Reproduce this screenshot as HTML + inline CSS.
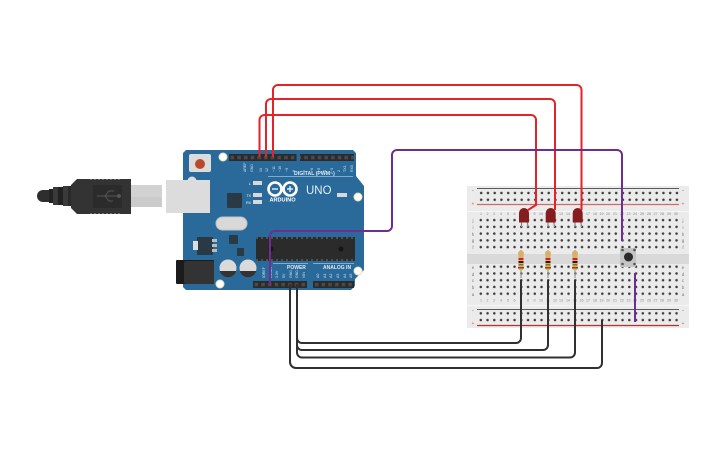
<!DOCTYPE html>
<html><head><meta charset="utf-8"><style>html,body{margin:0;padding:0;background:#fff}svg{display:block}text{font-family:"Liberation Sans",sans-serif}</style></head><body>
<svg width="725" height="453" viewBox="0 0 725 453" xmlns="http://www.w3.org/2000/svg">
<defs>
<pattern id="hd" x="478" y="189.7" width="6.75" height="6.75" patternUnits="userSpaceOnUse"><circle cx="3.2" cy="3.3" r="1.25" fill="#3a3a3a"/></pattern>
<pattern id="hm" x="477.6" y="216.8" width="6.75" height="6.75" patternUnits="userSpaceOnUse"><circle cx="3.2" cy="3.3" r="1.25" fill="#3a3a3a"/></pattern>
<pattern id="hl" x="477.6" y="263.4" width="6.75" height="6.75" patternUnits="userSpaceOnUse"><circle cx="3.2" cy="3.3" r="1.25" fill="#3a3a3a"/></pattern>
<pattern id="hb" x="477.6" y="310" width="6.75" height="6.75" patternUnits="userSpaceOnUse"><circle cx="3.2" cy="3.3" r="1.25" fill="#3a3a3a"/></pattern>
<pattern id="pin" x="229" y="154" width="6.7" height="7" patternUnits="userSpaceOnUse"><rect width="6.7" height="7" fill="#2b2b2b"/><rect x="1.6" y="1.8" width="3.5" height="3.5" fill="#4a4a4a"/></pattern>
<pattern id="pin2" x="253" y="281" width="6.7" height="7" patternUnits="userSpaceOnUse"><rect width="6.7" height="7" fill="#2b2b2b"/><rect x="1.6" y="1.8" width="3.5" height="3.5" fill="#4a4a4a"/></pattern>
</defs>

<!-- USB cable -->
<path d="M50 190H43a6 6 0 0 0 0 12H50Z" fill="#2e2e2e"/>
<rect x="49" y="189" width="4" height="14" fill="#222"/><rect x="53" y="187" width="5" height="18" fill="#3a3a3a"/><rect x="58" y="187" width="5" height="18" fill="#222"/><rect x="63" y="186" width="5" height="20" fill="#3a3a3a"/><rect x="68" y="186" width="5" height="20" fill="#2a2a2a"/>
<path d="M77 179H131V214H77L71 208V185Z" fill="#333"/>
<rect x="93" y="185" width="29" height="23" fill="#2b2b2b"/>
<path d="M97 196H119M105 196L109 191H114M105 196L109 201H113" stroke="#555" stroke-width="1" fill="none"/><circle cx="119" cy="196" r="2" fill="#555"/>
<path d="M90 179.500H122M90 213.500H122" stroke="#888" stroke-dasharray="2 2" stroke-width=".8"/>
<rect x="131" y="185" width="31" height="22" fill="#d2d2d2"/>
<rect x="131" y="197" width="31" height="10" fill="#cbcbcb"/>

<!-- Arduino -->
<path d="M186 150H353L356 153V176L364 186V270L355 279V286L351 290H186L183 287V153Z" fill="#2a6a9b"/>
<circle cx="192" cy="181" r="4.500" fill="#dcdcdc"/>
<rect x="166" y="180" width="44" height="33" fill="#dcdcdc"/>
<rect x="189" y="154" width="22" height="18" rx="2" fill="#dcdcdc"/>
<circle cx="200" cy="164" r="5" fill="#bb4a2c"/>
<circle cx="223" cy="157" r="4" fill="#fff" stroke="#e8e0b0"/>
<circle cx="358" cy="197" r="4" fill="#fff" stroke="#e8e0b0"/>
<circle cx="358" cy="271" r="4" fill="#fff" stroke="#e8e0b0"/>
<circle cx="220" cy="284" r="4" fill="#fff" stroke="#e8e0b0"/>
<rect x="229" y="154" width="67.500" height="7" fill="url(#pin)"/>
<rect x="300" y="154" width="54" height="7" fill="url(#pin)"/>
<rect x="253" y="281" width="54" height="7" fill="url(#pin2)"/>
<rect x="313" y="281" width="41" height="7" fill="url(#pin2)"/>
<rect x="227" y="193" width="15" height="15" rx="1" fill="#2a3a45"/>
<rect x="229" y="235" width="9" height="9" rx="1" fill="#2a3a45"/>
<rect x="216" y="217" width="31" height="13" rx="6.500" fill="#d8d8d8" stroke="#c0c0c0"/>
<rect x="197" y="237" width="16" height="18" fill="#2a3a45"/><rect x="193" y="241" width="5" height="9" fill="#ddd"/>
<rect x="212" y="239" width="5" height="3" fill="#bbb"/><rect x="212" y="244" width="5" height="3" fill="#bbb"/><rect x="212" y="249" width="5" height="3" fill="#bbb"/>
<rect x="237" y="248" width="7" height="8" fill="#2a3a45"/>
<rect x="176" y="260" width="38" height="24" rx="1" fill="#1b1b1b"/><rect x="184" y="261" width="30" height="23" rx="2" fill="#333"/>
<circle cx="228" cy="268" r="8.500" fill="#dadada"/><path d="M219.800 271a8.500 8.500 0 0 0 16.400 0Z" fill="#333"/>
<circle cx="248" cy="268" r="8.500" fill="#dadada"/><path d="M239.800 271a8.500 8.500 0 0 0 16.400 0Z" fill="#333"/>
<rect x="256" y="237" width="99" height="24" fill="#2b2b2b"/>
<path d="M256 238H355M256 260H355" stroke="#777" stroke-dasharray="2 3" stroke-width="1"/>
<circle cx="271" cy="249" r="2.500" fill="#151515"/><circle cx="341" cy="249" r="2.500" fill="#151515"/>
<rect x="253" y="181" width="9" height="4" fill="#d8d8d8"/><rect x="253" y="193" width="9" height="4" fill="#d8d8d8"/><rect x="253" y="200" width="9" height="4" fill="#d8d8d8"/><rect x="337" y="193" width="10" height="4" fill="#d8d8d8"/>
<text x="251" y="185" font-size="3.500" fill="#fff" text-anchor="end">L</text><text x="251" y="197" font-size="3.500" fill="#fff" text-anchor="end">TX</text><text x="251" y="204" font-size="3.500" fill="#fff" text-anchor="end">RX</text>
<path d="M268 176.500H353" stroke="#9fc0dc" stroke-width=".8"/>
<text x="294" y="175" font-size="5.200" font-weight="bold" fill="#dfeaf3">DIGITAL (PWM~)</text>
<g fill="none" stroke="#fff" stroke-width="2.600"><circle cx="275" cy="189" r="6.500"/><circle cx="290" cy="189" r="6.500"/></g>
<path d="M272 189H278M287 189H293M290 186V192" stroke="#fff" stroke-width="1.200"/>
<text x="282.500" y="201.500" font-size="5.600" font-weight="bold" fill="#fff" text-anchor="middle">ARDUINO</text>
<text x="306" y="194" font-size="11.500" fill="#e4edf5">UNO</text>
<text x="287" y="269" font-size="5" font-weight="bold" fill="#dfeaf3">POWER</text>
<text x="323" y="269" font-size="5" font-weight="bold" fill="#dfeaf3">ANALOG IN</text>
<path d="M273 263.500H308M313 263.500H354" stroke="#9fc0dc" stroke-width=".8"/>
<g font-size="3.600" fill="#d4e2ee">
<text transform="translate(246 172) rotate(-90)">AREF</text><text transform="translate(253 172) rotate(-90)">GND</text>
<text transform="translate(262 172) rotate(-90)">13</text><text transform="translate(268 172) rotate(-90)">12</text><text transform="translate(275 172) rotate(-90)">~11</text><text transform="translate(281 172) rotate(-90)">~10</text><text transform="translate(288 172) rotate(-90)">~9</text><text transform="translate(295 172) rotate(-90)">8</text>
<text transform="translate(306 172) rotate(-90)">7</text><text transform="translate(313 172) rotate(-90)">~6</text><text transform="translate(320 172) rotate(-90)">~5</text><text transform="translate(326 172) rotate(-90)">4</text><text transform="translate(333 172) rotate(-90)">~3</text><text transform="translate(340 172) rotate(-90)">2</text><text transform="translate(346 172) rotate(-90)">TX1</text><text transform="translate(353 172) rotate(-90)">RX0</text>
<text transform="translate(265 278) rotate(-90)">IOREF</text><text transform="translate(272 278) rotate(-90)">RESET</text><text transform="translate(278 278) rotate(-90)">3.3V</text><text transform="translate(285 278) rotate(-90)">5V</text><text transform="translate(292 278) rotate(-90)">GND</text><text transform="translate(298 278) rotate(-90)">GND</text><text transform="translate(305 278) rotate(-90)">VIN</text>
<text transform="translate(319 278) rotate(-90)">A0</text><text transform="translate(326 278) rotate(-90)">A1</text><text transform="translate(332 278) rotate(-90)">A2</text><text transform="translate(339 278) rotate(-90)">A3</text><text transform="translate(346 278) rotate(-90)">A4</text><text transform="translate(352 278) rotate(-90)">A5</text>
</g>

<!-- Breadboard -->
<rect x="467" y="186" width="222" height="142" fill="#ebebeb"/>
<rect x="467" y="254" width="222" height="10" fill="#d9d9d9"/>
<path d="M467 211.500H689M467 305.500H689" stroke="#f6f6f6"/>
<path d="M477 188.500H679M477 309.500H679" stroke="#5a5a5a" stroke-width="1"/>
<path d="M477 204.500H679" stroke="#d26a6a" stroke-width="1.200"/>
<path d="M477 325.500H679" stroke="#b53030" stroke-width="1.200"/>
<rect x="478" y="189.700" width="202" height="13.500" fill="url(#hd)"/>
<rect x="477.600" y="216.800" width="202.500" height="33.750" fill="url(#hm)"/>
<rect x="477.600" y="263.400" width="202.500" height="33.750" fill="url(#hl)"/>
<rect x="477.600" y="310" width="202.500" height="13.500" fill="url(#hb)"/>
<g font-size="5" fill="#d66" text-anchor="middle"><text x="473" y="205.500">+</text><text x="683" y="205.500">+</text><text x="473" y="325">+</text><text x="683" y="325">+</text></g>
<g font-size="5" fill="#555" text-anchor="middle"><text x="473" y="192">-</text><text x="683" y="192">-</text><text x="473" y="312">-</text><text x="683" y="312">-</text></g>
<g font-size="4.500" fill="#777" text-anchor="middle">
<text x="473" y="222">j</text><text x="473" y="229">i</text><text x="473" y="236">h</text><text x="473" y="242">g</text><text x="473" y="249">f</text>
<text x="683" y="222">j</text><text x="683" y="229">i</text><text x="683" y="236">h</text><text x="683" y="242">g</text><text x="683" y="249">f</text>
<text x="473" y="269">e</text><text x="473" y="276">d</text><text x="473" y="282">c</text><text x="473" y="289">b</text><text x="473" y="296">a</text>
<text x="683" y="269">e</text><text x="683" y="276">d</text><text x="683" y="282">c</text><text x="683" y="289">b</text><text x="683" y="296">a</text>
</g>
<g font-size="3.600" fill="#888" text-anchor="middle">
<text x="481" y="215">1</text><text x="487.500" y="215">2</text><text x="494" y="215">3</text><text x="501" y="215">4</text><text x="508" y="215">5</text><text x="514.500" y="215">6</text><text x="534.500" y="215">9</text><text x="541" y="215">10</text><text x="561" y="215">13</text><text x="568" y="215">14</text><text x="588" y="215">17</text><text x="595" y="215">18</text><text x="601.500" y="215">19</text><text x="608" y="215">20</text><text x="615" y="215">21</text><text x="622" y="215">22</text><text x="628.500" y="215">23</text><text x="635" y="215">24</text><text x="642" y="215">25</text><text x="649" y="215">26</text><text x="655.500" y="215">27</text><text x="662" y="215">28</text><text x="669" y="215">29</text><text x="676" y="215">30</text>
<text x="481" y="301.500">1</text><text x="487.500" y="301.500">2</text><text x="494" y="301.500">3</text><text x="501" y="301.500">4</text><text x="508" y="301.500">5</text><text x="514.500" y="301.500">6</text><text x="521" y="301.500">7</text><text x="528" y="301.500">8</text><text x="534.500" y="301.500">9</text><text x="541" y="301.500">10</text><text x="548" y="301.500">11</text><text x="555" y="301.500">12</text><text x="561" y="301.500">13</text><text x="568" y="301.500">14</text><text x="575" y="301.500">15</text><text x="581.500" y="301.500">16</text><text x="588" y="301.500">17</text><text x="595" y="301.500">18</text><text x="601.500" y="301.500">19</text><text x="608" y="301.500">20</text><text x="615" y="301.500">21</text><text x="622" y="301.500">22</text><text x="628.500" y="301.500">23</text><text x="635" y="301.500">24</text><text x="642" y="301.500">25</text><text x="649" y="301.500">26</text><text x="655.500" y="301.500">27</text><text x="662" y="301.500">28</text><text x="669" y="301.500">29</text><text x="676" y="301.500">30</text>
</g>

<!-- Resistors -->
<g>
<path d="M521 250V278" stroke="#999" stroke-width="1.200"/>
<path d="M518 253.500a3 3 0 0 1 6 0l-.5 2.500v9l.5 2.500a3 3 0 0 1-6 0l.5-2.500v-9z" fill="#d8b06a"/>
<rect x="518.500" y="258" width="5" height="2" fill="#d62020"/><rect x="518.500" y="261" width="5" height="2" fill="#2b1a10"/><rect x="518.500" y="264" width="5" height="1.500" fill="#a5651e"/><rect x="518" y="267" width="6" height="1.500" fill="#7a5020"/>
</g>
<g>
<path d="M548 250V278" stroke="#999" stroke-width="1.200"/>
<path d="M545 253.500a3 3 0 0 1 6 0l-.5 2.500v9l.5 2.500a3 3 0 0 1-6 0l.5-2.500v-9z" fill="#d8b06a"/>
<rect x="545.500" y="258" width="5" height="2" fill="#d62020"/><rect x="545.500" y="261" width="5" height="2" fill="#2b1a10"/><rect x="545.500" y="264" width="5" height="1.500" fill="#a5651e"/><rect x="545" y="267" width="6" height="1.500" fill="#7a5020"/>
</g>
<g>
<path d="M575 250V278" stroke="#999" stroke-width="1.200"/>
<path d="M572 253.500a3 3 0 0 1 6 0l-.5 2.500v9l.5 2.500a3 3 0 0 1-6 0l.5-2.500v-9z" fill="#d8b06a"/>
<rect x="572.500" y="258" width="5" height="2" fill="#d62020"/><rect x="572.500" y="261" width="5" height="2" fill="#2b1a10"/><rect x="572.500" y="264" width="5" height="1.500" fill="#a5651e"/><rect x="572" y="267" width="6" height="1.500" fill="#7a5020"/>
</g>

<!-- Button -->
<rect x="620" y="248" width="16" height="19" rx="1" fill="#c4c4c4"/>
<circle cx="628.500" cy="257" r="4.500" fill="#2a2a2a"/>
<circle cx="622.500" cy="250" r="1.300" fill="#555"/><circle cx="634.500" cy="250" r="1.300" fill="#555"/><circle cx="622.500" cy="264" r="1.300" fill="#555"/><circle cx="634.500" cy="264" r="1.300" fill="#555"/>

<!-- LEDs -->
<g stroke="#888" stroke-width="1.200"><path d="M521.500 220V227M527 220L528 227M548 220V227M553.500 220L554.500 227M575 220V227M580.500 220L581.500 227"/></g>
<g fill="#851c1e">
<path d="M519 222.500V213a5 5 0 0 1 10 0V222.500Z"/>
<path d="M545.700 222.500V213a5 5 0 0 1 10 0V222.500Z"/>
<path d="M572.700 222.500V213a5 5 0 0 1 10 0V222.500Z"/>
</g>

<!-- Wires -->
<g fill="none" stroke-linejoin="round">
<path d="M259.500 157V120a5 5 0 0 1 5-5H531a5 5 0 0 1 5 5V205L528 210" stroke="#e3222a" stroke-width="2"/>
<path d="M266 157V104a5 5 0 0 1 5-5H550a5 5 0 0 1 5 5V210" stroke="#e3222a" stroke-width="2"/>
<path d="M273 157V90a5 5 0 0 1 5-5H576.500a5 5 0 0 1 5 5V210" stroke="#e3222a" stroke-width="2"/>
<path d="M270 285V236a5 5 0 0 1 5-5H387a5 5 0 0 0 5-5V155a5 5 0 0 1 5-5H617a5 5 0 0 1 5 5V241" stroke="#6f2c91" stroke-width="2"/>
<path d="M635 273V322" stroke="#6f2c91" stroke-width="2"/>
<g stroke="#303030" stroke-width="2">
<path d="M297 284V338a5 5 0 0 0 5 5H516a5 5 0 0 0 5-5V280"/>
<path d="M297 284V345a5 5 0 0 0 5 5H543a5 5 0 0 0 5-5V280"/>
<path d="M297 284V352.500a5 5 0 0 0 5 5H570a5 5 0 0 0 5-5V280"/>
<path d="M290 284V362a6 6 0 0 0 6 6H597a5 5 0 0 0 5-5V320"/>
</g>
</g>
</svg>
</body></html>
